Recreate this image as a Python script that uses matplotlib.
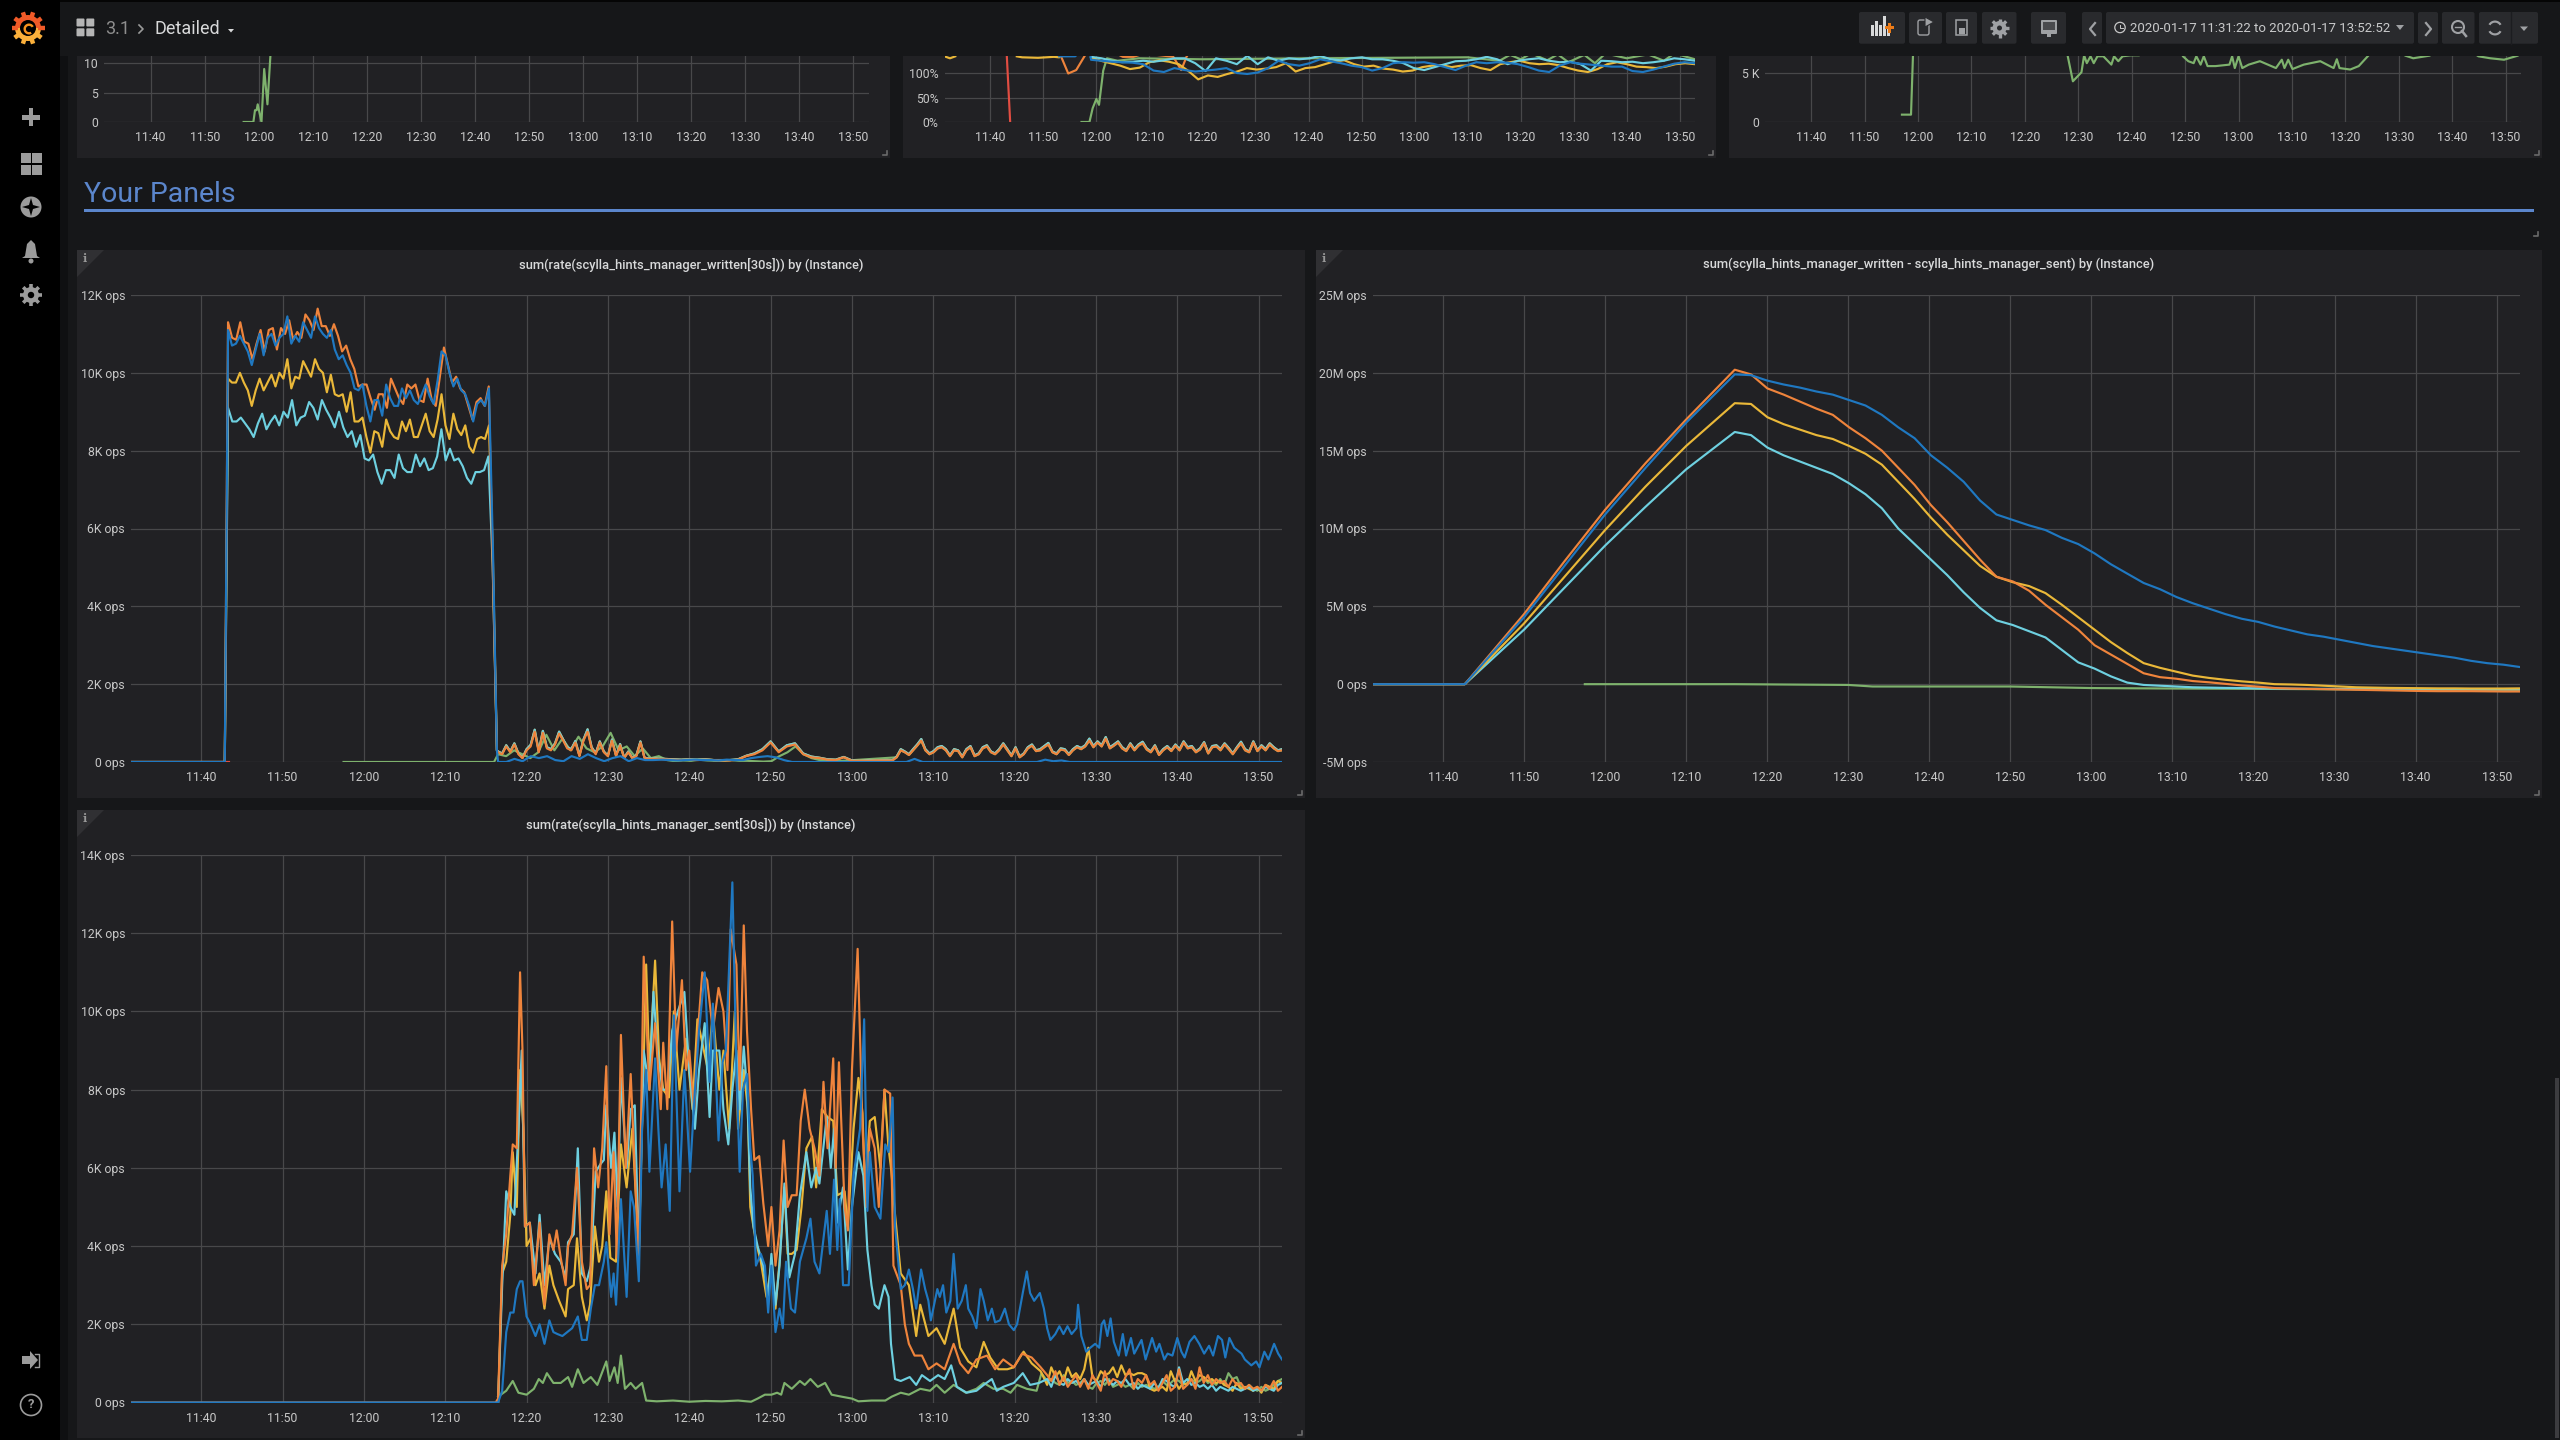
import numpy as np
import matplotlib
matplotlib.use("Agg")
import matplotlib.pyplot as plt
from matplotlib.patches import Rectangle, Circle, Wedge, Polygon, FancyBboxPatch

plt.rcParams['font.family'] = ['Roboto', 'DejaVu Sans']

GREEN, YELLOW, CYAN, ORANGE, RED, BLUE = '#7EB26D', '#EAB839', '#6ED0E0', '#EF843C', '#E24D42', '#1F78C1'

# all times: minutes after 12:00
T_START, T_END = -28.63, 112.87
tick_minutes = list(range(-20, 120, 10))
tick_labels = ['11:40', '11:50', '12:00', '12:10', '12:20', '12:30', '12:40', '12:50', '13:00', '13:10', '13:20', '13:30', '13:40', '13:50']

# ---------- written panel (K ops) ----------
written_blue = [11.1,10.7,10.75,10.95,10.75,10.55,10.2,10.6,11.0,10.45,10.9,11.0,10.7,10.9,11.0,11.45,10.75,10.95,10.8,11.3,11.1,10.9,11.45,11.15,11.0,10.9,11.1,10.6,10.35,10.45,10.2,10.0,9.6,9.55,9.7,9.15,8.75,9.3,9.3,8.9,9.7,9.35,9.15,9.15,9.6,9.35,9.55,9.3,9.2,9.45,9.7,9.4,9.2,9.8,10.55,10.45,10.0,9.65,9.85,9.55,9.45,9.15,8.75,9.2,9.3,9.15,9.6,5.5,0.3]
written_orange = [11.3,10.9,10.85,11.3,10.8,10.75,10.35,10.75,11.1,10.55,11.1,11.15,10.6,11.15,11.0,11.35,10.85,11.05,10.9,11.5,11.35,11.1,11.65,11.2,11.2,10.95,11.25,10.95,10.55,10.7,10.35,10.1,9.65,9.7,9.7,9.35,9.05,9.45,9.45,9.1,9.85,9.6,9.35,9.2,9.7,9.6,9.7,9.3,9.25,9.85,9.3,9.15,9.9,10.65,10.2,9.75,9.9,9.6,9.5,9.15,8.8,9.25,9.35,9.15,9.65,5.0,0.3]
written_yellow = [9.85,9.75,9.75,10.0,9.75,9.55,9.15,9.55,9.85,9.55,9.75,9.95,9.65,10.0,9.85,10.35,9.6,9.9,9.85,10.3,10.1,9.9,10.35,10.1,10.0,9.5,9.95,9.45,9.4,9.45,9.0,9.5,8.75,8.75,8.85,8.35,7.95,8.5,8.45,8.1,8.8,8.5,8.35,8.3,8.75,8.5,8.8,8.35,8.35,8.65,8.95,8.5,8.35,8.8,9.45,8.65,8.3,8.95,8.55,8.4,8.65,8.1,7.95,8.3,8.35,8.3,8.65,5.2,0.3]
written_cyan = [9.1,8.75,8.75,8.85,8.7,8.55,8.35,8.7,8.95,8.55,8.75,8.9,8.65,9.0,8.85,9.3,8.65,8.85,8.9,9.25,9.1,8.8,9.3,9.05,8.85,8.6,9.0,8.6,8.35,8.5,8.1,8.4,7.8,7.75,7.9,7.45,7.15,7.5,7.5,7.3,7.9,7.55,7.45,7.45,7.9,7.6,7.8,7.5,7.55,7.85,8.55,7.75,8.05,7.75,7.8,7.6,7.3,7.15,7.45,7.45,7.5,7.85,5.1,0.3]
# after the drop: half-minute samples 12:16.5-12:35, one-minute samples 12:36-13:05, half-minute samples to 13:53
written_tail_orange_a = [.25,.2,.4,.25,.45,.2,.1,.3,.4,.78,.25,.75,.35,.3,.45,.73,.55,.35,.3,.5,.15,.55,.78,.35,.2,.5,.25,.15,.55,.15,.43,.1,.25,.1,.15,.5,.1,.08]
written_tail_orange_b = [.08,.07,.06,.05,.06,.05,.06,.05,.04,.04,.06,.15,.2,.3,.5,.25,.4,.45,.2,.12,.1,.06,.05,.12,.03,.03,.03,.04,.04,.04]
written_tail_orange_c = [.12,.3,.25,.18,.3,.42,.55,.3,.2,.25,.35,.38,.3,.15,.3,.28,.12,.3,.38,.15,.2,.35,.4,.25,.2,.3,.45,.3,.15,.35,.12,.2,.35,.42,.28,.3,.38,.45,.25,.2,.32,.3,.18,.3,.38,.33,.4,.55,.38,.5,.4,.6,.35,.42,.5,.35,.28,.45,.3,.42,.48,.32,.25,.4,.18,.3,.38,.28,.42,.3,.5,.35,.38,.25,.32,.48,.22,.38,.4,.3,.45,.33,.2,.35,.48,.3,.25,.5,.28,.4,.3,.45,.35,.28,.3]
written_tail_peer_a = [.27,.22,.43,.27,.48,.22,.11,.33,.44,.83,.28,.8,.38,.33,.48,.78,.58,.38,.33,.54,.17,.58,.84,.38,.22,.53,.27,.16,.58,.17,.46,.11,.27,.11,.17,.53,.11,.09]
written_tail_peer_b = [.09,.08,.07,.06,.07,.06,.07,.05,.05,.05,.07,.16,.22,.33,.53,.27,.43,.48,.22,.14,.11,.07,.06,.13,.04,.03,.04,.04,.05,.05]
written_tail_peer_c = [.14,.33,.27,.2,.33,.45,.59,.33,.22,.28,.38,.41,.33,.17,.33,.3,.14,.33,.41,.17,.22,.38,.43,.27,.22,.33,.48,.33,.17,.38,.14,.22,.38,.45,.3,.33,.41,.49,.27,.22,.35,.33,.2,.33,.41,.36,.43,.6,.41,.53,.43,.64,.38,.45,.53,.38,.3,.48,.33,.45,.52,.35,.27,.43,.2,.33,.41,.3,.45,.33,.53,.38,.41,.27,.35,.51,.24,.41,.43,.33,.48,.36,.22,.38,.52,.33,.27,.53,.3,.43,.33,.48,.38,.3,.33]
written_tail_blue = [0,0,.08,.02,.15,.1,.15,.05,.02,.15,.08,.2,.1,.02,.1,.15,.02,.1,.05,.05,.06,.05,.04,.05,.06,.05,.05,.04,.06,.05,.05,.1,.13,.15,.12,.05,0,0,0,0,0,0,0,0,0,0,0,0,0,0,0,.08,0,0,0,0,0,0,0,0,0,0,0,0,0,0,0,.06,.02,.04,0,0,0,0,0,0,0,0,0,0,0,0,0,0,0,0,0,0,0,0,0,0,0,0,0,0,0]
written_tail_green = [.2,.15,.3,.2,.1,.25,.7,.3,.6,.3,.65,.35,.25,.4,.75,.3,.4,.15,.35,.1,.15,.05,.02,.04,.03,.06,.04,.03,.02,.05,.03,.03,.02,.01,.02,.15,.25,.4,.2,.1,.05,.03,.02]

# ---------- backlog panel (M ops) ----------
rise_minutes = [-17.3, -10, -5, 0, 5, 10, 16]
backlog_rise_blue = [0, 4.3, 7.6, 10.9, 13.9, 16.8, 19.9]
backlog_rise_orange = [0, 4.5, 7.9, 11.2, 14.2, 17.0, 20.2]
backlog_rise_yellow = [0, 3.9, 6.9, 9.9, 12.7, 15.3, 18.05]
backlog_rise_cyan = [0, 3.5, 6.2, 8.9, 11.4, 13.8, 16.2]
backlog_fall_blue = [19.85,19.5,19.25,19.05,18.8,18.6,18.25,17.9,17.3,16.5,15.8,14.7,13.9,13,11.8,10.9,10.55,10.2,9.9,9.4,9.0,8.4,7.7,7.1,6.5,6.1,5.6,5.2,4.85,4.5,4.2,4.0,3.7,3.45,3.2,3.05,2.85,2.65,2.45,2.3,2.15,2.0,1.85,1.7,1.5,1.35,1.25,1.1]
backlog_fall_orange = [19.9,19.0,18.6,18.15,17.7,17.3,16.5,15.8,15.0,13.9,12.8,11.5,10.4,9.2,8.0,6.9,6.6,6.0,5.1,4.3,3.5,2.5,1.9,1.3,.7,.45,.35,.2,.12,.02,-.08,-.16,-.25,-.28,-.3,-.32,-.34,-.36,-.38,-.4,-.42,-.44,-.45,-.45,-.45,-.46,-.47,-.47]
backlog_fall_yellow = [18.0,17.15,16.7,16.35,16.0,15.75,15.3,14.8,14.1,13.0,11.9,10.7,9.6,8.6,7.6,6.9,6.55,6.3,5.85,5.1,4.3,3.5,2.7,2.0,1.35,1.05,.8,.55,.4,.28,.18,.1,0,-.02,-.05,-.1,-.15,-.2,-.22,-.24,-.25,-.26,-.27,-.27,-.28,-.28,-.28,-.27]
backlog_fall_cyan = [16.0,15.2,14.7,14.3,13.9,13.5,12.9,12.2,11.3,10.0,9.0,8.0,7.0,5.9,4.9,4.1,3.8,3.4,3.0,2.2,1.4,1.0,.5,.1,-.05,-.1,-.15,-.2,-.22,-.24,-.25,-.27,-.28,-.29,-.3,-.3,-.3,-.31,-.31,-.31,-.32,-.32,-.32,-.32,-.33,-.33,-.33,-.33]
backlog_green_t = [-2.5, 16, 30, 33, 50, 55, 60, 70, 80, 90, 112.87]
backlog_green = [0, 0, -.05, -.15, -.15, -.2, -.25, -.28, -.3, -.33, -.38]

# ---------- sent panel (K ops) : (minute, value) ----------
sent_orange = [(-28.63,0),(16.2,0),(16.5,.1),(17,3.5),(17.5,4.3),(18,5.8),(18.3,6.6),(18.8,6.5),(19.2,11),(19.5,9),(19.8,4.5),(20.4,4.6),(20.9,3),(21.6,4.6),(22.2,2.5),(22.8,4.3),(23.3,3.9),(23.7,4.4),(24.2,3.7),(24.8,3),(25.1,4),(25.6,4.3),(26.2,6),(26.8,3.6),(27.4,2.9),(27.8,3),(28.3,6.5),(28.8,5.5),(29.3,6.5),(29.8,8.6),(30.2,4.3),(30.7,6.4),(31.1,3.7),(31.6,9.4),(32.2,6),(32.8,8.4),(33.4,5.5),(33.8,3.7),(34.4,11.4),(35.1,8),(35.8,9.7),(36.5,7.5),(36.8,9.2),(37.3,7.5),(37.9,12.3),(38.4,9),(39.1,10.8),(39.6,8.5),(40,9),(40.6,7.5),(41,9.3),(41.6,11),(42.2,10.8),(42.9,9.5),(43.6,10.6),(44.2,10),(44.7,8.5),(45.1,12.1),(45.8,11.2),(46.2,8),(46.7,12.2),(47.1,9.5),(47.6,7.5),(48,6.2),(48.6,6.3),(49.1,5.1),(49.7,4),(50.1,5),(50.6,3.5),(51.1,4.4),(51.6,6.7),(52.1,5),(52.6,5.3),(53.2,5.3),(53.7,7.2),(54.2,8),(54.8,7),(55.4,6.5),(56,5.8),(56.5,8.2),(57,6.5),(57.7,8.8),(58,6),(58.4,8.7),(59.1,5),(59.5,4.4),(60,8.5),(60.7,11.6),(61.3,7),(61.8,5),(62.2,7),(62.8,6.5),(63.3,5),(64,8),(64.7,7.9),(65.1,3.5),(66,3),(66.5,2),(67,1.5),(67.7,1.2),(68.6,1.2),(69.4,.85),(70.4,1),(71.4,.85),(72.5,1.5),(73.3,1),(74.3,.75),(75.3,1.1),(76.6,1.2),(77.6,.85),(78.6,1.1),(79.9,.9),(80.9,1.25),(82.1,1.15),(83.2,.9)]
sent_blue = [(-28.63,0),(16.5,0),(17,.3),(17.5,1.8),(18,2.3),(18.4,2.3),(18.8,2.9),(19.2,3.1),(19.5,3.1),(20,2.2),(20.5,2),(21.1,1.7),(21.6,2),(22.2,1.5),(22.8,2.1),(23.3,1.8),(23.8,1.75),(24.4,1.7),(25,1.8),(25.6,1.9),(26.3,2.2),(26.8,1.6),(27.4,1.6),(27.9,2.4),(28.4,3),(28.9,3),(29.5,3.6),(29.8,4.1),(30.4,2.7),(30.7,3.3),(31,2.5),(31.6,5.2),(32.3,2.7),(32.8,5.4),(33.2,5),(33.8,3.1),(34.2,7),(34.7,8.5),(35.1,5.9),(35.8,8.8),(36.2,7),(36.6,5.5),(37.1,6.6),(37.6,4.9),(38.1,9.9),(38.8,5.4),(39.4,8.5),(40.1,5.9),(40.7,8),(41.2,9.5),(41.9,11),(42.5,8.2),(42.9,10.2),(43.6,6.7),(44.1,8.7),(44.5,9),(45.3,13.3),(45.8,8.5),(46.2,5.9),(46.6,8),(47.1,8.4),(47.5,6.5),(47.8,5.8),(48.2,3.5),(48.8,3.8),(49.3,3.5),(49.7,2.3),(50.1,3.5),(50.6,1.8),(51.1,2.4),(51.5,1.9),(51.9,3.6),(52.5,2.4),(53,2.3),(53.6,3.6),(54.4,4.2),(54.9,4.7),(55.4,3.6),(56,3.3),(56.9,4.9),(57.3,3.8),(57.8,5.7),(58.2,3.9),(58.5,5.2),(58.9,3),(59.6,3),(60.2,5.8),(61,7),(61.5,9.8),(61.9,4.9),(62.2,6.4),(62.8,5),(63.5,4.7),(64.1,6.6),(64.5,6.4),(65,7.8),(65.3,4.5),(66,2.9),(66.5,3),(67,3.4),(67.5,2.9),(67.9,2.4),(68.5,3.4),(69,2.9),(69.4,2.6),(69.7,2.1),(70.2,2.6),(70.5,2.9),(70.8,2.7),(71.2,3),(71.6,2.3),(72.1,2.6),(72.5,3.8),(73,2.4),(73.5,2.6),(74,3),(74.3,2.4),(74.8,2.2),(75.3,1.9),(75.8,2.9),(76.2,2.6),(76.7,2.1),(77.2,2.4),(77.6,2.05),(78.2,2.1),(78.8,2.4),(79.3,2),(79.9,1.85),(80.3,2),(81,2.8),(81.5,3.35),(81.9,2.8),(82.4,2.6),(83.1,2.8),(83.6,2.4),(84,1.9),(84.4,1.6),(85,1.75),(85.5,1.95),(86,1.75),(86.5,1.95),(87,1.75),(87.6,1.9),(87.8,2.5),(88.2,1.7),(88.8,1.3),(89.3,1.4),(89.9,1.5),(90.4,1.4),(90.7,2),(91,2.1),(91.4,1.7),(91.8,2.15),(92.2,1.55),(92.8,1.2),(93.3,1.75),(93.7,1.2),(94.3,1.65),(94.7,1.25),(95.6,1.6),(96.1,1.1),(96.9,1.65),(97.4,1.3),(97.8,1.5),(98.4,1.1),(98.8,1.25),(99.4,1.2),(100,1.65),(100.5,1.3),(100.9,1.15),(101.5,1.55),(102.1,1.7),(102.7,1.5),(103.3,1.25),(103.9,1.45),(104.4,1.2),(105,1.7),(105.5,1.6),(105.9,1.15),(106.4,1.65),(107,1.4),(107.9,1.25),(108.3,1.1),(109.1,.95),(109.7,1.05),(110.1,.9),(110.7,1.3),(111.2,1.1),(111.9,1.5),(112.4,1.25),(112.87,1.1)]
sent_cyan = [(16.5,0),(17,3),(17.5,5.4),(18,5),(18.5,4.8),(19,7),(19.4,9),(19.8,4.5),(20.4,4.6),(21.1,3.3),(21.6,4.8),(22.2,3),(22.8,4.2),(23.5,3.8),(24.2,3.6),(24.8,3.2),(25.1,4.1),(25.8,4.3),(26.3,6.5),(26.8,3.3),(27.4,3.1),(27.9,3.5),(28.5,5.9),(29.1,6.1),(29.5,6.2),(29.8,7.6),(30.4,6),(30.8,6.9),(31.2,5),(31.6,8.3),(32.3,6),(32.8,7.5),(33.3,7.6),(33.8,3.8),(34.4,9),(35.1,8),(35.6,10.5),(36.1,9),(36.7,8),(37.3,8),(37.9,9.5),(38.6,10),(39.4,10.5),(40,8.5),(40.7,7),(41.2,8.5),(41.9,9.7),(42.5,7.3),(42.9,9),(43.7,9),(44.2,7.5),(44.8,6.6),(45.3,8),(45.8,9),(46.2,7.5),(46.7,9.1),(47.1,8),(47.5,5.5),(47.9,4.5),(48.4,4),(49.1,3.5),(49.7,2.7),(50.1,3.8),(50.6,2.5),(51.1,3.5),(51.7,5.6),(52.3,3.2),(53,3.8),(53.6,5.3),(54.4,6.4),(55,5.5),(55.6,6),(56,5.6),(56.9,7.3),(57.4,6),(57.8,7),(58.2,4.6),(58.9,5.5),(59.5,3.4),(60,5),(60.8,6.4),(61.4,5.8),(61.9,3.9),(62.4,3),(62.8,2.5),(63.3,2.4),(64,3),(64.5,2.7),(64.8,1.5),(65.3,.6),(66,.55),(67.1,.65),(67.9,.45),(68.6,.7),(69.6,.55),(70.6,.7),(71.4,.6),(72.2,.95),(72.9,.4),(74.1,.25),(75.3,.3),(76.2,.45),(77.2,.6),(77.8,.3),(78.6,.4),(79.9,.5),(81,.75),(81.9,.45),(83,.5)]
sent_yellow = [(16.5,0),(17,3.3),(17.5,3.6),(18,4.8),(18.3,6.4),(18.8,5),(19.2,8.5),(19.6,7),(20,4),(20.5,4.2),(21.1,3),(21.6,3.3),(22.2,2.4),(22.8,3.5),(23.3,3),(24,2.6),(24.8,2.2),(25.1,2.9),(25.8,3),(26.2,4.2),(26.8,2.7),(27.4,2.1),(27.8,2.5),(28.4,4.5),(28.9,3.6),(29.3,4),(29.8,5.4),(30.3,3.7),(31,3.6),(31.6,6.6),(32.3,5.5),(33,7),(33.4,5.4),(33.8,3.8),(34.7,11.2),(35.1,8.5),(35.8,11.3),(36.3,8.8),(36.8,8),(37.5,7.8),(38.1,10),(38.8,8),(39.6,9.3),(40.4,7.5),(41,9.8),(41.6,9.2),(42.3,8.5),(42.9,10),(43.7,8),(44.2,9),(44.9,7),(45.6,10),(46,7),(46.7,8.5),(47.2,7.5),(47.5,5),(48.2,4.1),(48.8,3.6),(49.5,2.7),(50.1,3.5),(50.6,2.4),(51.1,3.6),(51.7,5.5),(52.1,3.8),(52.6,3.8),(53.2,3.9),(53.8,5),(54.4,6.5),(55.1,6.8),(55.6,5.5),(56.3,7.5),(57,7.3),(57.7,7.2),(58.2,5.3),(59.1,5.4),(59.5,4.5),(60.2,7),(60.8,8.3),(61.3,7.4),(61.6,5.5),(62.2,7.2),(62.8,7.3),(63.5,6),(64,8),(64.5,6.5),(64.8,6),(65.3,4.8),(66,3.3),(67,3),(67.9,1.7),(68.4,2.5),(69.4,1.7),(70.4,1.9),(71.4,1.5),(72.5,2.4),(73.3,1.4),(74.3,1.05),(75.3,.9),(76.2,1.55),(77,1.15),(78,.85),(79.1,.85),(79.9,.9),(81.1,1.3),(82.1,1),(83.2,.8)]
sent_green = [(16.5,.15),(17.5,.3),(18.3,.55),(19,.25),(20,.2),(20.9,.35),(21.5,.6),(22,.5),(22.5,.75),(23.3,.5),(24.2,.5),(25.1,.65),(25.6,.4),(26.3,.85),(27,.5),(27.9,.65),(28.7,.45),(29.8,1.05),(30.2,.55),(30.8,.9),(31.2,.5),(31.6,1.2),(32.1,.35),(32.8,.5),(33.4,.35),(34.2,.5),(34.7,.05),(36,.03),(38,.05),(40,.02),(42,.04),(44,.03),(46,.05),(47.6,.02),(48.4,.1),(49.3,.2),(50.1,.2),(50.8,.25),(51.3,.2),(51.7,.5),(52.6,.35),(53.6,.55),(54.2,.45),(54.9,.6),(55.8,.4),(56.7,.5),(57.5,.2),(58.7,.15),(60,.1),(60.8,.03),(62.4,.05),(64.1,.05),(64.9,.15),(66,.25),(67,.2),(68.4,.35),(69.6,.3),(70.4,.45),(71.4,.25),(72.5,.45),(74,.25),(75.3,.35),(76.2,.5),(77.4,.35),(78.6,.35),(79.5,.25),(80.3,.45),(81.5,.35),(82.7,.3),(83.3,.75)]
# half-minute samples from 13:24 to the end
sent_late_orange = [.7,.55,.8,.45,.65,.4,.55,.7,.4,.6,.35,.7,.5,.3,.8,.45,.6,.55,.4,.65,.85,.35,.6,.5,.7,.45,.55,.3,.5,.7,.3,.4,.85,.35,.45,.6,.35,.9,.5,.7,.45,.6,.5,.55,.4,.6,.45,.5,.35,.45,.35,.4,.3,.45,.35,.55,.3,.4]
sent_late_yellow = [.45,.9,.65,.8,.55,.9,.65,.75,.6,.85,1.4,.65,.55,.8,.7,.75,.9,.65,.95,.7,.75,.7,.75,.75,.7,.35,.3,.35,.4,.3,.8,.55,.35,.5,.45,.8,.55,.7,.65,.55,.6,.5,.55,.45,.4,.3,.5,.35,.4,.35,.3,.4,.25,.45,.4,.35,.55,.5]
sent_late_cyan = [.6,.4,.7,.5,.45,.6,.5,.55,.45,.6,.45,.5,.55,.4,.6,.55,.45,.55,.5,.6,.45,.5,.35,.45,.4,.35,.5,.35,.6,.55,.45,.4,.9,.5,.6,.45,.5,.4,.45,.35,.45,.3,.4,.35,.3,.4,.35,.3,.35,.4,.3,.35,.3,.4,.35,.3,.45,.5]
sent_late_green = [.55,.6,.5,.45,.7,.5,.55,.45,.5,.6,.4,.35,.5,.55,.45,.6,.4,.45,.5,.4,.45,.35,.5,.4,.45,.4,.35,.4,.55,.45,.5,.6,.55,.45,.5,.6,.5,.55,.65,.5,.55,.45,.6,.45,.75,.6,.65,.4,.35,.45,.35,.3,.4,.3,.35,.45,.55,.6]

# ---------- top row, scrolled almost out of view ----------
top_left_green = [(-2.8,0),(-1,0),(-.7,2),(-.4,2),(-.2,3),(.5,0),(1,9),(1.6,3),(2.2,12),(4,20)]
top_mid_red = [(-28.63,160),(-17,160),(-16.25,0)]
top_mid_green = [(-2.8,0),(-1.3,0),(-.7,28),(0,47),(.5,35),(1.3,105),(2,130),(4,125),(8,130),(20,128),(40,130),(70,132),(76,125),(78,137),(80,128),(82,140),(85,126),(87,138),(89,122),(92,137),(94,120),(96,140),(100,130),(104,138),(107,125),(109,140),(112.87,128)]
top_mid_orange = [(-28.63,180),(-7,180),(-6.7,135),(-5.3,99),(-3.8,106),(-2.3,133),(-1.3,150),(3.7,140),(5,133),(7,133),(9,140),(14.5,133),(16,106),(17,133),(18,150),(112.87,150)]
top_mid_yellow_left = [(-28.63,134),(-27.6,130),(-26.6,134)]
top_mid_yellow_early = [(-15,134),(-14,132),(-11,131),(-8,133),(-7,132),(-6,160)]
top_mid_yellow = [132,125,120,115,108,111,122,126,123,118,104,87,95,92,98,103,110,107,109,112,120,103,110,112,118,124,126,118,113,115,109,107,103,105,112,115,116,112,115,116,110,106,118,122,125,120,118,119,116,110,105,102,108,118,122,118,113,112,110,113,118,120,118]
top_mid_cyan = [133,130,125,122,123,125,123,126,130,130,120,104,130,125,118,135,118,132,125,130,128,130,135,128,126,130,132,128,128,125,120,110,106,112,118,124,125,128,133,128,118,125,128,130,125,122,123,118,105,125,124,122,123,120,122,125,130,128,125]
top_mid_blue = [127,125,123,122,121,118,105,102,110,106,103,105,107,110,100,98,101,110,125,118,115,120,128,124,120,115,112,105,110,120,122,121,122,118,112,106,115,122,120,122,121,118,112,105,102,115,122,119,117,115,113,113,104,102,107,113,119,122,120]
top_right_green = [(-3,.75),(-1.3,.75),(-.8,9),(27,9),(28,6.8),(29,4.15),(30.6,5.07),(31.1,6.8),(31.6,6),(32.3,6.7),(32.9,6),(33.6,6.7),(34.7,6.7),(36.2,5.85),(36.7,6.7),(37.5,6.2),(38.3,6.7),(39.8,6.8),(41.4,6.8),(42,9),(47.5,9),(49.6,6.7),(50.6,6.2),(51.6,6),(52.1,6.7),(52.9,5.85),(53.5,6.7),(54.2,5.7),(55.7,5.7),(58.3,5.85),(58.8,6.7),(59.3,5.5),(60,6.7),(60.7,5.5),(61.9,5.85),(64,6.2),(67,5.5),(68.1,6.35),(68.6,5.5),(69.3,6.35),(70.1,5.4),(72.2,5.85),(75.3,6.2),(77.8,5.5),(78.4,6.4),(78.9,5.5),(80.9,5.35),(82.5,5.7),(84.3,6.77),(86.6,9),(91.2,6.77),(92.7,6.5),(95.8,6.77),(98.9,9),(104.9,6.7),(107.1,6.5),(109.7,6.35),(112.3,6.77),(112.87,7.2)]

section_title = 'Your Panels'
panel_titles = ['sum(rate(scylla_hints_manager_written[30s])) by (Instance)',
                'sum(scylla_hints_manager_written - scylla_hints_manager_sent) by (Instance)',
                'sum(rate(scylla_hints_manager_sent[30s])) by (Instance)']
time_range_text = '2020-01-17 11:31:22 to 2020-01-17 13:52:52'

W, H = 2560, 1440
fig = plt.figure(figsize=(W/100, H/100), dpi=100, facecolor='#161719')

# backdrop in pixel coordinates
bg = fig.add_axes([0, 0, 1, 1], zorder=0)
bg.set_xlim(0, W); bg.set_ylim(H, 0); bg.axis('off')
PANEL = '#212124'
def panel(x0, y0, x1, y1, info=False):
    bg.add_patch(Rectangle((x0, y0), x1-x0, y1-y0, fc=PANEL, ec='none'))
    bg.plot([x1-7, x1-3, x1-3], [y1-3, y1-3, y1-7], color='#6a6a6a', lw=1.2)
    if info:
        bg.add_patch(Polygon([(x0, y0), (x0+27, y0), (x0, y0+27)], fc='#303033', ec='none'))
        bg.text(x0+8, y0+8, 'i', color='#999999', fontsize=8, fontweight='bold', family='DejaVu Serif', ha='center', va='center')

panel(77, 40, 890, 158); panel(903, 40, 1716, 158); panel(1729, 40, 2542, 158)
panel(77, 250, 1305, 798, True); panel(1316, 250, 2542, 798, True); panel(77, 810, 1305, 1438, True)

bg.text(84, 195, section_title, color='#5B86CC', fontsize=20.5, va='center', ha='left', fontweight='normal')
bg.add_patch(Rectangle((84, 208.5), 2534-84, 3, fc='#5B86CC', ec='none'))
bg.plot([2534, 2538, 2538], [236, 236, 232], color='#6a6a6a', lw=1.2)
for cx, cy, t in [(691, 264.5, panel_titles[0]), (1929, 264.5, panel_titles[1]), (691, 825, panel_titles[2])]:
    bg.text(cx, cy, t, color='#d8d9da', fontsize=9.3, ha='center', va='center', fontweight='medium')

def chart(x0, x1, ytop, ybot, ymin, ymax, yticks, ylabels, fs=8.8):
    ax = fig.add_axes([x0/W, 1-ybot/H, (x1-x0)/W, (ybot-ytop)/H], zorder=1)
    ax.set_facecolor('none')
    ax.set_xlim(T_START, T_END); ax.set_ylim(ymin, ymax)
    for s in ax.spines.values():
        s.set_visible(False)
    ax.set_xticks(tick_minutes); ax.set_xticklabels(tick_labels)
    ax.set_yticks(yticks); ax.set_yticklabels(ylabels)
    ax.tick_params(length=0, colors='#c8c8c8', labelsize=fs)
    ax.tick_params(axis='x', pad=6.5); ax.tick_params(axis='y', pad=4.3)
    ax.grid(True, color='#48484a', lw=0.9, zorder=0)
    ax.set_axisbelow(True)
    return ax

def draw(ax, t, v, c, lw=1.55, z=3):
    ax.plot(t, v, color=c, lw=lw, zorder=z, solid_joinstyle='round')

def draw_pairs(ax, pairs, c, **kw):
    a = np.array(pairs, dtype=float)
    draw(ax, a[:, 0], a[:, 1], c, **kw)

def draw_pairs_late(ax, pairs, late, c, **kw):
    a = np.array(pairs, dtype=float)
    t = np.concatenate([a[:, 0], np.linspace(84, T_END, len(late))])
    draw(ax, t, np.concatenate([a[:, 1], late]), c, **kw)

# written panel
ax1 = chart(131, 1282, 295, 762, 0, 12, [0, 2, 4, 6, 8, 10, 12], ['0 ops', '2K ops', '4K ops', '6K ops', '8K ops', '10K ops', '12K ops'])
tail_a = np.linspace(16.5, 35, len(written_tail_orange_a))
tail_b = np.linspace(36, 65, len(written_tail_orange_b))
tail_c = np.linspace(65.5, T_END, len(written_tail_orange_c))
for vals, va, vb, vc, c, z in [(written_yellow, written_tail_peer_a, written_tail_peer_b, written_tail_peer_c, YELLOW, 3),
                               (written_cyan, written_tail_peer_a, written_tail_peer_b, written_tail_peer_c, CYAN, 4),
                               (written_orange, written_tail_orange_a, written_tail_orange_b, written_tail_orange_c, ORANGE, 5)]:
    t = np.concatenate([[T_START, -17.1], np.linspace(-16.7, 16.35, len(vals)), tail_a, tail_b, tail_c])
    v = np.concatenate([[0, 0], vals, va, vb, vc])
    draw(ax1, t, v, c, z=z)
draw(ax1, [T_START, -16.6], [0, 0], RED, z=2.5)
gt = np.concatenate([[-2.5, 16], np.linspace(16.5, 58, len(written_tail_green)), tail_c])
gv = np.concatenate([[0, 0], written_tail_green, written_tail_orange_c])
draw(ax1, gt, gv, GREEN, z=2)
bt = np.concatenate([[T_START, -17.1], np.linspace(-16.7, 16.35, len(written_blue)), np.linspace(16.5, T_END, len(written_tail_blue))])
bv = np.concatenate([[0, 0], written_blue, written_tail_blue])
draw(ax1, bt, bv, BLUE, z=6)

# backlog panel
ax2 = chart(1373, 2520, 295, 762, -5, 25, [-5, 0, 5, 10, 15, 20, 25], ['-5M ops', '0 ops', '5M ops', '10M ops', '15M ops', '20M ops', '25M ops'])
draw(ax2, backlog_green_t, backlog_green, GREEN, z=2)
for rise, fall, c, z in [(backlog_rise_yellow, backlog_fall_yellow, YELLOW, 4), (backlog_rise_cyan, backlog_fall_cyan, CYAN, 3),
                         (backlog_rise_orange, backlog_fall_orange, ORANGE, 5), (backlog_rise_blue, backlog_fall_blue, BLUE, 6)]:
    t = np.concatenate([[T_START], rise_minutes, np.linspace(18, T_END, len(fall))])
    v = np.concatenate([[0], rise, fall])
    draw(ax2, t, v, c, z=z)

# sent panel
ax3 = chart(131, 1282, 855, 1402.5, 0, 14, [0, 2, 4, 6, 8, 10, 12, 14], ['0 ops', '2K ops', '4K ops', '6K ops', '8K ops', '10K ops', '12K ops', '14K ops'])
draw_pairs_late(ax3, sent_green, sent_late_green, GREEN, z=2)
draw_pairs_late(ax3, sent_yellow, sent_late_yellow, YELLOW, z=3)
draw_pairs_late(ax3, sent_orange, sent_late_orange, ORANGE, z=5)
draw_pairs_late(ax3, sent_cyan, sent_late_cyan, CYAN, z=4)
draw_pairs(ax3, sent_blue, BLUE, z=6)

# top row
axa = chart(104, 869, 56, 122, 0, 11.2, [0, 5, 10], ['0', '5', '10'])
draw_pairs(axa, top_left_green, GREEN)
axb = chart(944.5, 1695, 56, 122, 0, 134.7, [0, 50, 100], ['0%', '50%', '100%'])
draw_pairs(axb, top_mid_green, GREEN, z=2)
draw_pairs(axb, top_mid_red, RED, z=2.5)
draw_pairs(axb, top_mid_orange, ORANGE, z=3)
draw_pairs(axb, top_mid_yellow_left, YELLOW, z=4)
draw_pairs(axb, top_mid_yellow_early, YELLOW, z=4)
draw(axb, np.linspace(-1, T_END, len(top_mid_yellow)), top_mid_yellow, YELLOW, z=4)
draw(axb, np.linspace(-1, T_END, len(top_mid_cyan)), top_mid_cyan, CYAN, z=5)
draw(axb, np.concatenate([[-7, -4, -1.5], np.linspace(-1, T_END, len(top_mid_blue))]),
     np.concatenate([[134, 134, 160], top_mid_blue]), BLUE, z=6)
axc = chart(1765, 2521, 56, 122, 0, 6.73, [0, 5], ['0', '5 K'])
draw_pairs(axc, top_right_green, GREEN)

# top bar and side bar
top = fig.add_axes([0, 0, 1, 1], zorder=2)
top.set_xlim(0, W); top.set_ylim(H, 0); top.axis('off'); top.patch.set_alpha(0)
top.add_patch(Rectangle((0, 0), W, 56, fc='#161719', ec='none'))
top.add_patch(Rectangle((0, 0), W, 1.5, fc='#050505', ec='none'))
top.add_patch(Rectangle((0, 0), 60, H, fc='#000000', ec='none'))
top.add_patch(Rectangle((60, 56), 8, H-56, fc='#0f1012', ec='none'))
top.add_patch(Rectangle((2555, 1078), 4, 360, fc='#3c3c3f', ec='none'))
ICON = '#9b9b9b'

def teeth(cx, cy, r0, r1, n, color, lw, start=0.0):
    for a in start + np.arange(n)*2*np.pi/n:
        top.plot([cx+r0*np.cos(a), cx+r1*np.cos(a)], [cy+r0*np.sin(a), cy+r1*np.sin(a)], color=color, lw=lw, solid_capstyle='butt')

# logo
for i, a in enumerate(np.arange(10)*2*np.pi/10):
    col = '#F05A28' if np.sin(a) < 0.2 else '#FBB03B'
    top.plot([28+10*np.cos(a), 28+16.5*np.cos(a)], [28+10*np.sin(a), 28+16.5*np.sin(a)], color=col, lw=3.2, solid_capstyle='butt')
top.add_patch(Wedge((28, 28), 13, 180, 360, fc='#F05A28', ec='none'))
top.add_patch(Wedge((28, 28), 13, 0, 180, fc='#FBB03B', ec='none'))
top.add_patch(Circle((28, 28), 8, fc='#000000', ec='none'))
top.add_patch(Wedge((29, 29), 5.5, 60, 330, width=2.4, fc='#F7931E', ec='none'))
# side icons
top.add_patch(Rectangle((22, 115), 18, 4.5, fc=ICON, ec='none'))
top.add_patch(Rectangle((28.7, 108), 4.5, 18, fc=ICON, ec='none'))
for dx in (0, 11.5):
    for dy in (0, 11.5):
        top.add_patch(Rectangle((20.5+dx, 153+dy), 10, 10, fc=ICON, ec='none'))
top.add_patch(Circle((31, 207), 10.5, fc=ICON, ec='none'))
top.add_patch(Polygon([(31, 198), (33, 205), (40, 207), (33, 209), (31, 216), (29, 209), (22, 207), (29, 205)], fc='#000000', ec='none'))
top.add_patch(Polygon([(31, 240), (35, 244), (37, 256), (40, 258), (22, 258), (25, 256), (27, 244)], fc=ICON, ec='none'))
top.add_patch(Circle((31, 261), 2.5, fc=ICON, ec='none'))
teeth(31, 295, 6, 11, 8, ICON, 2.6)
top.add_patch(Circle((31, 295), 8, fc=ICON, ec='none'))
top.add_patch(Circle((31, 295), 3.2, fc='#000000', ec='none'))
top.add_patch(Polygon([(22, 1356), (30, 1356), (30, 1351), (38, 1360), (30, 1369), (30, 1364), (22, 1364)], fc=ICON, ec='none'))
top.plot([35, 39, 39, 35], [1353.5, 1353.5, 1367, 1367], color=ICON, lw=1)
top.add_patch(Circle((31, 1405), 10.5, fc='none', ec=ICON, lw=1.2))
top.text(31, 1405, '?', color=ICON, fontsize=9.5, ha='center', va='center', fontweight='bold')
# breadcrumb
for dx in (0, 9.8):
    for dy in (0, 9.8):
        top.add_patch(FancyBboxPatch((76.5+dx, 18.5+dy), 8, 8, boxstyle='round,pad=0,rounding_size=1', fc='#b5b5b5', ec='none'))
top.text(105, 29, '3.1', color='#8e8e8e', fontsize=13, va='center', ha='left')
top.plot([139, 143, 139], [25, 29, 33], color='#9a9a9a', lw=1.2)
top.text(155, 29, 'Detailed', color='#d8d9da', fontsize=13, va='center', ha='left')
top.add_patch(Polygon([(228, 29), (234, 29), (231, 32.5)], fc='#d8d9da', ec='none'))
# tool buttons
button_edges = [(1859, 1905), (1909, 1942), (1946, 1977), (1982, 2016.5), (2031, 2066), (2082, 2102), (2106, 2414), (2418, 2438), (2442, 2474.5), (2479, 2538)]
for a, b in button_edges:
    top.add_patch(FancyBboxPatch((a, 12), b-a, 31.7, boxstyle='round,pad=0,rounding_size=2', fc='#292a2d', ec='none'))
TB = '#9fa1a4'
for x, h in zip((1870.5, 1874.5, 1878.5, 1882.5, 1886.5), (11, 15, 11, 20, 9)):
    top.add_patch(Rectangle((x, 36-h), 3, h, fc='#d8d9da', ec='none'))
top.add_patch(Rectangle((1885, 26), 9, 2.6, fc='#EB7B18', ec='none'))
top.add_patch(Rectangle((1888.2, 22.5), 2.6, 10, fc='#EB7B18', ec='none'))
top.add_patch(FancyBboxPatch((1918, 20), 11, 15, boxstyle='round,pad=0,rounding_size=2', fc='none', ec=TB, lw=1))
top.add_patch(Polygon([(1925, 17), (1934, 22), (1925, 27)], fc=TB, ec='#292a2d', lw=0.8))
top.add_patch(Rectangle((1956, 20), 11, 15, fc='none', ec=TB, lw=1.1))
top.add_patch(Rectangle((1958.5, 28), 6, 6, fc=TB, ec='none'))
teeth(1999.5, 28, 5, 9.5, 8, TB, 2.4)
top.add_patch(Circle((1999.5, 28), 7, fc=TB, ec='none'))
top.add_patch(Circle((1999.5, 28), 2.5, fc='#292a2d', ec='none'))
top.add_patch(FancyBboxPatch((2041, 20), 16, 14, boxstyle='round,pad=0,rounding_size=1', fc=TB, ec='none'))
top.add_patch(Rectangle((2043, 22), 12, 8, fc='#4a4b4e', ec='none'))
top.add_patch(Rectangle((2047, 34), 4, 2.5, fc=TB, ec='none'))
top.plot([2095, 2090, 2095], [23, 29, 35], color=TB, lw=1.6)
top.plot([2426, 2431, 2426], [23, 29, 35], color=TB, lw=1.6)
top.add_patch(Circle((2120, 27.5), 5.2, fc='none', ec='#c8c8c8', lw=0.9))
top.plot([2120, 2120, 2123], [24.5, 28, 28], color='#c8c8c8', lw=0.7)
top.text(2129.5, 29, time_range_text, color='#c8c9ca', fontsize=9.5, va='center', ha='left')
top.add_patch(Polygon([(2396, 25), (2404, 25), (2400, 30)], fc=TB, ec='none'))
top.add_patch(Circle((2458, 27), 6, fc='none', ec=TB, lw=1.5))
top.plot([2462, 2466], [31, 36], color=TB, lw=1.8)
top.plot([2455, 2461], [27, 27], color=TB, lw=1)
top.add_patch(Wedge((2495, 28), 7.5, 30, 150, width=2.2, fc=TB, ec='none'))
top.add_patch(Wedge((2495, 28), 7.5, 210, 330, width=2.2, fc=TB, ec='none'))
top.plot([2511, 2511], [12, 43.7], color='#1c1d20', lw=1)
top.add_patch(Polygon([(2520, 26.5), (2528, 26.5), (2524, 31)], fc=TB, ec='none'))

fig.savefig('out.png', dpi=100, facecolor=fig.get_facecolor())
